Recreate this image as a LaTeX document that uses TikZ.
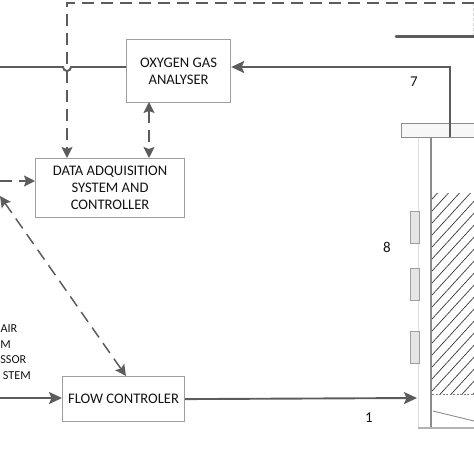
\documentclass[tikz,border=0pt]{standalone}
\usepackage{fontspec}
\setmainfont{Carlito}
\usetikzlibrary{arrows.meta}
\definecolor{ln}{gray}{0.36}
\definecolor{bx}{gray}{0.62}
\tikzset{
  boxn/.style={draw=bx,line width=1.2pt,fill=white,align=center,inner sep=0pt,font=\fontsize{14.6}{17}\selectfont,text=black!92},
  flow/.style={draw=ln,line width=1.9pt},
  flowa/.style={flow,-{Stealth[length=13pt,width=12pt,inset=2.5pt]}},
  sig/.style={draw=ln,line width=1.5pt,dash pattern=on 12pt off 7pt},
  siga/.style={sig,-{Stealth[length=11pt,width=11pt,inset=2pt]}},
  sigb/.style={sig,{Stealth[length=11pt,width=11pt,inset=2pt]}-{Stealth[length=11pt,width=11pt,inset=2pt]}},
  lab/.style={font=\fontsize{15}{17}\selectfont,text=black!92,inner sep=0pt},
  airlab/.style={font=\fontsize{12.2}{15}\selectfont,text=black!92,inner sep=0pt,anchor=east},
  wall/.style={draw=black!45,line width=1.2pt},
  fwall/.style={draw=black!13,line width=1pt},
  heat/.style={draw=bx,line width=1pt,fill=black!10,minimum width=9pt,minimum height=32pt,inner sep=0pt,anchor=north west}
}
\begin{document}
\begin{tikzpicture}[x=1pt,y=-1pt]
\useasboundingbox (0,0) rectangle (474,474);
% reactor
\begin{scope}
\clip (432,193) rectangle (474,394);
\foreach \k in {0,...,22}
  \draw[black!75,line width=.8pt,dash pattern=on 2pt off .4pt] (432,{199+12*\k}) -- ++(55,-60);
\end{scope}
\draw[black!50,line width=.8pt,dash pattern=on 2pt off 1.5pt] (432,394) -- (474,394);
\draw[fwall] (418,137) -- (418,428);
\draw[wall] (431,137) -- (431,428);
\draw[draw=black!30,line width=1.2pt] (418,428) -- (474,428);
\draw[draw=black!45,line width=.9pt] (433,411) -- (474,421);
\node[draw=black!45,line width=.9pt,fill=black!3,minimum width=85pt,minimum height=14pt,inner sep=0pt,anchor=north west] (lid) at (401,123) {};
\node[heat] (h1) at (410,211) {};
\node[heat] (h2) at (410,268) {};
\node[heat] (h3) at (410,331) {};
% boxes
\node[boxn,minimum width=104pt,minimum height=63pt,anchor=north west] (oga) at (126,39) {OXYGEN GAS\\ANALYSER};
\node[boxn,minimum width=149pt,minimum height=59pt,anchor=north west] (das) at (35,158) {DATA ADQUISITION\\SYSTEM AND\\CONTROLLER};
\node[boxn,minimum width=122pt,minimum height=45pt,anchor=north west] (fc) at (62,376) {FLOW CONTROLER};
% coordinates
\coordinate (topr) at (474,3);
\coordinate (topl) at (67,3);
\coordinate (lft) at (0,67);
\coordinate (sampl) at (450,67);
\coordinate (samp) at (450,137);
\coordinate (dasl) at (0,181);
\coordinate (dg) at (0,196);
\coordinate (fcl) at (0,398);
\coordinate (inlet) at (417,398);
\coordinate (bar) at (396,36);
\coordinate (barr) at (474,36);
% connectors
\draw[draw=black!15,line width=.7pt,dash pattern=on 3pt off 2pt] (473,3) -- (473,36);
\draw[flow,line width=3pt,line cap=round] (bar) -- (barr);
\draw[flowa] (samp) -- (sampl) -- (oga.east |- sampl);
\draw[flow] (oga.west |- lft) -- (71,67) arc[start angle=0,end angle=-180,radius=4pt] -- (lft);
\draw[siga] (topr) -- (topl) -- (das.north -| topl);
\draw[sigb] (149,102) -- (149,158);
\draw[siga] (dasl) -- (das.west |- dasl);
\draw[sigb] (dg) -- (126,376);
\draw[flowa] (fcl) -- (fc.west |- fcl);
\draw[flowa] (fc.east) -- (inlet);
% labels
\node[lab] (n7) at (414,82) {7};
\node[lab] (n8) at (387,247) {8};
\node[lab] (n1) at (369,418) {1};
\node[airlab] (a1) at (17.5,329) {AIR};
\node[airlab] (a2) at (11,345) {M};
\node[airlab] (a3) at (26.5,360) {SSOR};
\node[airlab] (a4) at (31,376) {STEM};
\end{tikzpicture}
\end{document}
